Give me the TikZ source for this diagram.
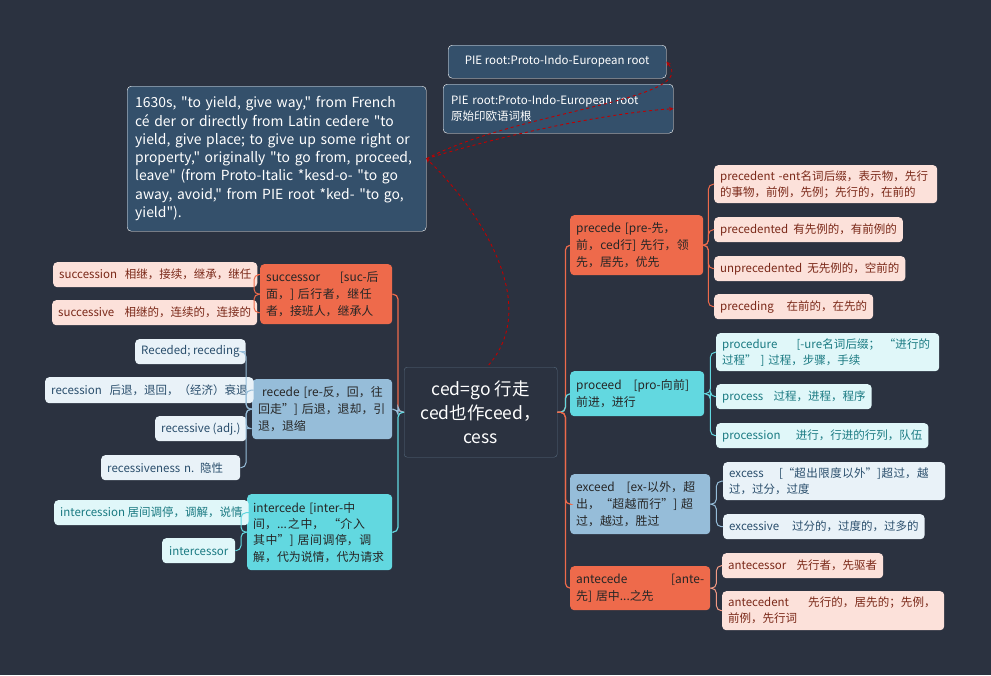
\documentclass[tikz,border=0pt]{standalone}
\usepackage{fontspec}
\newfontfamily\mf{Noto Sans CJK SC}
\XeTeXlinebreaklocale "zh"
\XeTeXlinebreakskip=0pt plus 1pt
\begin{document}
\begin{tikzpicture}[x=1pt,y=-1pt,
  box/.style={rounded corners=4pt,inner ysep=0pt,inner xsep=6pt,align=left,anchor=north west,font=\mf\fontsize{11.9}{17}\selectfont},
  leaf/.style={font=\mf\fontsize{11.5}{16}\selectfont},
  org/.style={box,fill=orM,text=black!85},
  orl/.style={box,leaf,fill=orL,text=orT},
  cym/.style={box,fill=cyM,text=black!85},
  cyl/.style={box,leaf,fill=cyL,text=cyT},
  blm/.style={box,fill=blM,text=black!85},
  bll/.style={box,leaf,fill=blL,text=blT},
  note/.style={box,fill=noteC,draw=white!85,text=white},
  con/.style={line width=1.2pt,rounded corners=5pt},
  red/.style={draw=red!75!black,dashed,line width=0.9pt}]
\definecolor{bg}{HTML}{2B3240}
\definecolor{orM}{HTML}{EE6A4B}
\definecolor{orL}{HTML}{FCE1DA}
\definecolor{orT}{HTML}{7A2818}
\definecolor{cyM}{HTML}{62D8E0}
\definecolor{cyL}{HTML}{E0F7F9}
\definecolor{cyT}{HTML}{1A7A82}
\definecolor{blM}{HTML}{96BDD9}
\definecolor{blL}{HTML}{E9F2F8}
\definecolor{blT}{HTML}{2A4E6C}
\definecolor{noteC}{HTML}{34506B}
\fill[bg] (0,0) rectangle (991,675);
\useasboundingbox (0,0) rectangle (991,675);
% root
\node[draw=blM!40!bg,rounded corners=3pt,fill=bg,text=white,minimum width=153,minimum height=90,align=center,font=\mf\fontsize{17.5}{24}\selectfont,anchor=north west] (root) at (404,367) {ced=go 行走\\ced也作ceed，\\cess};
% notes
\node[note,minimum width=299,minimum height=145,text width=283,font=\mf\fontsize{13.9}{18.3}\selectfont,inner xsep=8pt] (note) at (127,86) {1630s, "to yield, give way," from French cé der or directly from Latin cedere "to yield, give place; to give up some right or property," originally "to go from, proceed, leave" (from Proto-Italic *kesd-o- "to go away, avoid," from PIE root *ked- "to go, yield").};
\node[note,leaf,minimum width=218,minimum height=33,inner xsep=8pt] (pie1) at (448,45) {PIE root:Proto-Indo-European root};
\node[note,leaf,minimum width=230,minimum height=49,inner xsep=8pt,text width=214] (pie2) at (443,84) {PIE root:Proto-Indo-European root\\原始印欧语词根};
% right main
\node[org,minimum width=133,minimum height=60,text width=121] (precede) at (570,215) {precede [pre-先，前，ced行] 先行，领先，居先，优先};
\node[cym,minimum width=134,minimum height=45,text width=122] (proceed) at (570,371) {proceed\ \ \ [pro-向前] 前进，进行};
\node[blm,minimum width=140,minimum height=60,text width=128] (exceed) at (570,474) {exceed\ \ \ [ex-以外，超出，“超越而行”] 超过，越过，胜过};
\node[org,minimum width=140,minimum height=44,text width=128] (antecede) at (570,566) {antecede\hfill[ante-\\先] 居中...之先};
% right leaves
\node[orl,minimum width=223,minimum height=38,text width=211] (p1) at (714,165) {precedent -ent名词后缀，表示物，先行的事物，前例，先例；先行的，在前的};
\node[orl,minimum width=177,minimum height=25] (p2) at (714,217) {precedented\ \ 有先例的，有前例的};
\node[orl,minimum width=179,minimum height=25] (p3) at (714,256) {unprecedented\ \ 无先例的，空前的};
\node[orl,minimum width=155,minimum height=25] (p4) at (714,294) {preceding\ \ \ \ \ 在前的，在先的};
\node[cyl,minimum width=223,minimum height=38,text width=211] (q1) at (716,333) {procedure\ \ \ \ \ [-ure名词后缀；\ “进行的过程” ] 过程，步骤，手续};
\node[cyl,minimum width=150,minimum height=25] (q2) at (716,384) {process\ \ \ \ 过程，进程，程序};
\node[cyl,minimum width=204,minimum height=25] (q3) at (716,423) {procession\ \ \ \ \ \ 进行，行进的行列，队伍};
\node[bll,minimum width=222,minimum height=38,text width=210] (e1) at (723,462) {excess\ \ \ \ [“超出限度以外”]超过，越过，过分，过度};
\node[bll,minimum width=193,minimum height=25] (e2) at (723,514) {excessive\ \ \ \ \ 过分的，过度的，过多的};
\node[orl,minimum width=155,minimum height=25] (a1) at (722,553) {antecessor\ \ \ \ 先行者，先驱者};
\node[orl,minimum width=222,minimum height=39,text width=210] (a2) at (722,591) {antecedent\ \ \ \ \ 先行的，居先的；先例，前例，先行词};
% left main
\node[org,minimum width=132,minimum height=60,text width=120] (succ) at (260,264) {successor\ \ \ \ \ [suc-后面，] 后行者，继任者，接班人，继承人};
\node[blm,minimum width=140,minimum height=60,text width=128] (rec) at (252,379) {\ recede [re-反，回，往回走”] 后退，退却，引退，退缩};
\node[cym,minimum width=145,minimum height=76,text width=133,font=\mf\fontsize{11.9}{16.3}\selectfont] (int) at (247,494) {intercede [inter-中间，...之中，\ “介入其中”] 居间调停，调解，代为说情，代为请求};
% left leaves
\node[orl,minimum width=195,minimum height=25] (s1) at (53,262) {succession\ \ \ 相继，接续，继承，继任};
\node[orl,minimum width=196,minimum height=25] (s2) at (52,300) {successive\ \ \ \ 相继的，连续的，连接的};
\node[bll,minimum width=105,minimum height=25] (r1) at (135,339) {Receded; receding};
\node[bll,minimum width=195,minimum height=26] (r2) at (45,377) {recession\ \ \ 后退，退回，（经济）衰退};
\node[bll,minimum width=85,minimum height=25] (r3) at (155,416) {recessive (adj.)};
\node[bll,minimum width=139,minimum height=25,text width=127] (r4) at (101,455) {recessiveness n. 隐性};
\node[cyl,minimum width=181,minimum height=25] (i1) at (54,500) {intercession 居间调停，调解，说情};
\node[cyl,minimum width=73,minimum height=25] (i2) at (162,538) {intercessor};
% connectors root
\coordinate (rl) at ([xshift=-6pt]root.west);
\coordinate (rr) at ([xshift=8pt]root.east);
\draw[con,orM] (root.west) -- (rl) |- (succ.east);
\draw[con,blM] (root.west) -- (rl) |- (rec.east);
\draw[con,cyM] (root.west) -- (rl) |- (int.east);
\draw[con,orM] (root.east) -- (rr) |- (precede.west);
\draw[con,cyM] (root.east) -- (rr) |- (proceed.west);
\draw[con,orM] (root.east) -- (rr) |- (exceed.west);
\draw[con,orM] (root.east) -- (rr) |- (antecede.west);
% children
\foreach \c in {p1,p2,p3,p4}{\draw[con,orM,line width=1pt] (precede.east) -- ++(5,0) |- (\c.west);}
\foreach \c in {q1,q2,q3}{\draw[con,cyM,line width=1pt] (proceed.east) -- ++(6,0) |- (\c.west);}
\foreach \c in {e1,e2}{\draw[con,blM,line width=1pt] (exceed.east) -- ++(6,0) |- (\c.west);}
\foreach \c in {a1,a2}{\draw[con,orM!60!orL,line width=1pt] (antecede.east) -- ++(6,0) |- (\c.west);}
\foreach \c in {s1,s2}{\draw[con,orM,line width=1pt] (succ.west) -- ++(-6,0) |- (\c.east);}
\foreach \c in {r1,r2,r3,r4}{\draw[con,blM,line width=1pt] (rec.west) -- ++(-6,0) |- (\c.east);}
\foreach \c in {i1,i2}{\draw[con,cyM,line width=1pt] (int.west) -- ++(-6,0) |- (\c.east);}
% dashed relations
\draw[red,->,>=stealth] ([xshift=8pt,yshift=2pt]root.north) .. controls (545,300) and (470,200) .. (note.east);
\draw[red,->,>=stealth] (note.east) .. controls (520,110) and (700,100) .. (pie1.east);
\draw[red,->,>=stealth] (note.east) .. controls (520,130) and (620,112) .. (pie2.east);
\end{tikzpicture}
\end{document}
